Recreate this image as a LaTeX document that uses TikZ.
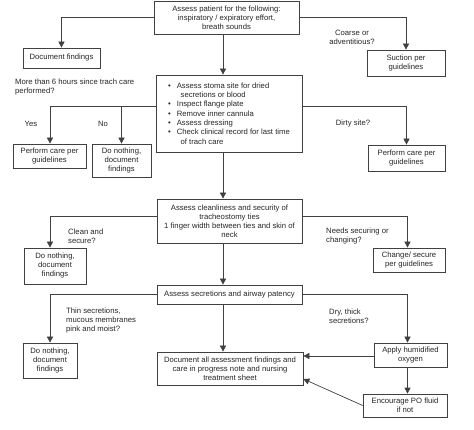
\documentclass[tikz,border=0pt]{standalone}
\usepackage{fontspec}
\setmainfont{Liberation Sans}
\usetikzlibrary{arrows.meta}
\begin{document}
\begin{tikzpicture}[x=1pt,y=-1pt,
  every node/.style={font=\fontsize{7.7}{9}\selectfont, text=black!85},
  box/.style={draw=black!75, line width=0.7pt, inner sep=0pt, align=center},
  lbl/.style={inner sep=0pt, align=left, anchor=west},
  clbl/.style={inner sep=0pt, align=center},
  conn/.style={draw=black!75, line width=0.7pt},
  arr/.style={conn, -{Triangle[length=6pt,width=6pt]}}]
\useasboundingbox (0,0) rectangle (474,430);
\fill[white] (0,0) rectangle (474,430);

\coordinate (sp) at (223,0);
\coordinate (cL) at (50,0);
\coordinate (cR) at (407.5,0);

\node[box, minimum width=145pt, minimum height=33pt] (top) at (226.5,17.5)
  {Assess patient for the following:\\inspiratory / expiratory effort,\\breath sounds};
\node[box, minimum width=77pt, minimum height=20pt] (docf) at (61.5,58) {Document findings};
\node[box, minimum width=78pt, minimum height=26pt] (suct) at (406,63) {Suction per\\guidelines};

\node[box, minimum width=146pt, minimum height=77pt, align=left,
  font=\fontsize{7.7}{9.3}\selectfont] (bul) at (229,113.5)
  {\textbullet\hspace{6pt}Assess stoma site for dried\\
   \hspace{12.5pt}secretions or blood\\
   \textbullet\hspace{6pt}Inspect flange plate\\
   \textbullet\hspace{6pt}Remove inner cannula\\
   \textbullet\hspace{6pt}Assess dressing\\
   \textbullet\hspace{6pt}Check clinical record for last time\\
   \hspace{12.5pt}of trach care};

\node[box, minimum width=73pt, minimum height=24pt] (perfL) at (49.5,156) {Perform care per\\guidelines};
\node[box, minimum width=59pt, minimum height=33pt] (dn1) at (121.5,160.5) {Do nothing,\\document\\findings};
\node[box, minimum width=77pt, minimum height=26pt] (perfR) at (406.5,158) {Perform care per\\guidelines};

\node[box, minimum width=145pt, minimum height=44pt] (clean) at (229.5,221)
  {Assess cleanliness and security of\\tracheostomy ties\\1 finger width between ties and skin of\\neck};
\node[box, minimum width=62pt, minimum height=36pt] (dn2) at (55,266) {Do nothing,\\document\\findings};
\node[box, minimum width=72pt, minimum height=24pt] (chg) at (409,260) {Change/ secure\\per guidelines};

\node[box, minimum width=145pt, minimum height=19pt] (air) at (229.5,294.5) {Assess secretions and airway patency};
\node[box, minimum width=54pt, minimum height=35pt] (dn3) at (50,360.5) {Do nothing,\\document\\findings};
\node[box, minimum width=73pt, minimum height=24pt] (appl) at (410.5,355) {Apply humidified\\oxygen};
\node[box, minimum width=146pt, minimum height=33pt] (docall) at (230,368.5)
  {Document all assessment findings and\\care in progress note and nursing\\treatment sheet};
\node[box, minimum width=84pt, minimum height=23pt] (enc) at (405,405.5) {Encourage PO fluid\\if not};

% labels
\node[lbl] (l1) at (15,87.5) {More than 6 hours since trach care\\performed?};
\node[clbl] (l2) at (31,124) {Yes};
\node[clbl] (l3) at (103,124) {No};
\node[clbl] (l4) at (352,37.5) {Coarse or\\adventitious?};
\node[clbl] (l5) at (353,124) {Dirty site?};
\node[lbl] (l6) at (68,236.5) {Clean and\\secure?};
\node[lbl] (l7) at (326,236.5) {Needs securing or\\changing?};
\node[lbl] (l8) at (66,321) {Thin secretions,\\mucous membranes\\pink and moist?};
\node[lbl] (l9) at (329,316.5) {Dry, thick\\secretions?};

% connectors
\draw[arr] (top.west) -| (docf.north);
\draw[arr] (top.east) -| (suct.north);
\draw[arr] (top.south -| sp) -- (bul.north -| sp);

\coordinate (bL) at ([yshift=7.5pt]bul.west);
\coordinate (bR) at ([yshift=7.5pt]bul.east);
\draw[arr] (bL) -| (cL |- perfL.north);
\draw[arr] (bL -| dn1.north) -- (dn1.north);
\draw[arr] (bR) -| (perfR.north);
\draw[arr] (bul.south -| sp) -- (clean.north -| sp);

\draw[arr] ([yshift=5pt]clean.west) -| (cL |- dn2.north);
\draw[arr] ([yshift=5pt]clean.east) -| (cR |- chg.north);
\draw[arr] (clean.south -| sp) -- (air.north -| sp);

\draw[arr] (air.west) -| (cL |- dn3.north);
\draw[arr] (air.east) -| (cR |- appl.north);
\draw[arr] (air.south -| sp) -- (docall.north -| sp);

\draw[arr] ([yshift=-1pt]appl.west) -- ([yshift=-1pt]appl.west -| docall.east);
\draw[arr] (cR |- appl.south) -- (cR |- enc.north);
\draw[arr] (enc.west) -- ([yshift=-10.5pt]docall.east);
\end{tikzpicture}
\end{document}
